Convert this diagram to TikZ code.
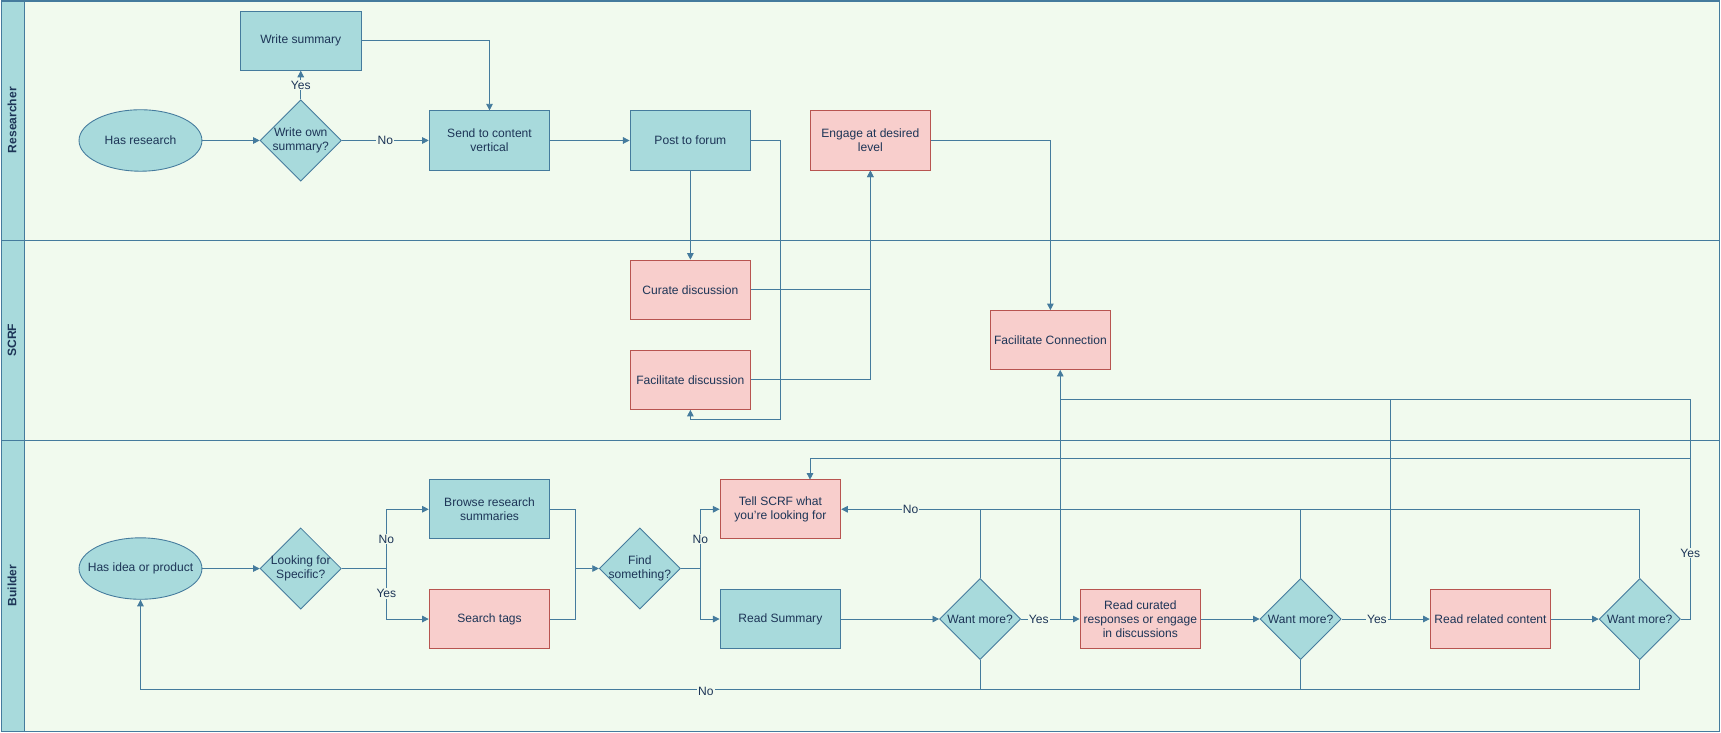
\documentclass[tikz,border=0pt]{standalone}
\usepackage{fontspec}
\setmainfont{Liberation Sans}
\usetikzlibrary{shapes.geometric,arrows.meta}
\definecolor{teal}{HTML}{A8DADC}
\definecolor{bg}{HTML}{F1FAEE}
\definecolor{ln}{HTML}{457B9D}
\definecolor{dk}{HTML}{1D3557}
\definecolor{pk}{HTML}{F8CECC}
\definecolor{pkd}{HTML}{B85450}
\begin{document}
\begin{tikzpicture}[x=0.5pt,y=-0.5pt,
  every node/.style={font=\fontsize{5.5}{6.5}\selectfont, text=dk, align=center},
  box/.style={draw=ln, fill=teal, minimum width=55pt, minimum height=27pt, inner sep=0pt},
  pbox/.style={box, draw=pkd, fill=pk},
  ell/.style={ellipse, draw=ln, fill=teal, minimum width=56pt, minimum height=28pt, inner sep=0pt},
  dia/.style={diamond, draw=ln, fill=teal, minimum width=37pt, minimum height=37pt, inner sep=0pt, label={[text=dk, font=\fontsize{5.5}{6.5}\selectfont, align=center]center:#1}},
  ar/.style={draw=ln, -{Triangle[length=3pt,width=3pt]}},
  ln/.style={draw=ln},
  lab/.style={fill=bg, inner sep=0.5pt}]
\useasboundingbox (0,0) rectangle (1568,667);
% lanes
\foreach \a/\b/\t in {0/219/Researcher,219/401/SCRF,401/666/Builder}{
  \fill[bg] (22,\a) rectangle (1567,\b);
  \draw[ln, fill=teal] (1,\a) rectangle (22,\b);
  \draw[ln] (22,\a) rectangle (1567,\b);
  \node[rotate=90, font=\fontsize{5.5}{6.5}\selectfont\bfseries] at (11,{(\a+\b)/2}) {\t};
}
\draw[ln] (1,1) rectangle (1567,666);
% nodes
\node[ell] (hr) at (128,128) {Has research};
\node[dia={Write own\\summary?}] (d1) at (274,128) {};
\node[box] (ws) at (274,37) {Write summary};
\node[box] (sc) at (446,128) {Send to content\\vertical};
\node[box] (pf) at (629,128) {Post to forum};
\node[pbox] (en) at (793,128) {Engage at desired\\level};
\node[pbox] (cd) at (629,264) {Curate discussion};
\node[pbox] (fd) at (629,346) {Facilitate discussion};
\node[pbox] (fc) at (957,310) {Facilitate Connection};
\node[ell, label={[text=dk,font=\fontsize{5.5}{6.5}\selectfont]center:Has idea or product}] (hi) at (128,518) {};
\node[dia={Looking for\\Specific?}] (d2) at (274,518) {};
\node[box] (br) at (446,464) {Browse research\\summaries};
\node[pbox] (st) at (446,564) {Search tags};
\node[dia={Find\\something?}] (d3) at (583,518) {};
\node[pbox] (ts) at (711,464) {Tell SCRF what\\you're looking for};
\node[box] (rs) at (711,564) {Read Summary};
\node[dia={Want more?}] (w1) at (893,564) {};
\node[pbox] (rc) at (1039,564) {Read curated\\responses or engage\\in discussions};
\node[dia={Want more?}] (w2) at (1185,564) {};
\node[pbox] (rr) at (1358,564) {Read related content};
\node[dia={Want more?}] (w3) at (1494,564) {};
\coordinate (bot) at (128,628);
% researcher
\draw[ar] (hr) -- (d1);
\draw[ar] (d1) -- node[lab,pos=0.5]{Yes} (ws);
\draw[ar] (d1) -- node[lab]{No} (sc);
\draw[ar] (ws.east) -| (sc.north);
\draw[ar] (sc) -- (pf);
\draw[ar] (pf) -- (cd);
\draw[ar] (pf.east) -- (711,128) -- (711,382) -| (fd.south);
\draw[ar] (cd.east) -| (en.south);
\draw[ar] (fd.east) -| (en.south);
\draw[ar] (en.east) -| (fc.north);
% builder
\draw[ar] (hi) -- (d2);
\draw[ar] (d2.east) -- (352,518) |- node[lab,pos=0.25]{No} (br.west);
\draw[ar] (d2.east) -- (352,518) |- node[lab,pos=0.25]{Yes} (st.west);
\draw[ln] (br.east) -- (524,464) -- (524,518);
\draw[ln] (st.east) -- (524,564) -- (524,518);
\draw[ar] (524,518) -- (d3.west);
\draw[ar] (d3.east) -- (638,518) |- node[lab,pos=0.25]{No} (ts.west);
\draw[ar] (d3.east) -- (638,518) |- (rs.west);
\draw[ar] (rs) -- (w1);
\draw[ar] (w1) -- node[lab,pos=0.3]{Yes} (rc);
\draw[ar] (rc) -- (w2);
\draw[ar] (w2) -- node[lab,pos=0.4]{Yes} (rr);
\draw[ar] (rr) -- (w3);
\draw[ar] (w1.north) |- node[lab,pos=0.75]{No} (ts.east);
\draw[ln] (w2.north) |- (893,464);
\draw[ln] (w3.north) |- (1185,464);
\draw[ar] (w1.south) -- (893,628) -- (bot) -- (hi.south);
\node[lab] at (643,630) {No};
\draw[ln] (w2.south) |- (893,628);
\draw[ln] (w3.south) |- (1185,628);
\draw[ar] (966,564) -- (966,364) -- (966,337);
\draw[ln] (1267,564) -- (1267,364) -- (966,364);
\draw[ln] (w3.east) -- (1540,564) -- node[lab,pos=0.3]{Yes} (1540,364) -- (1267,364);
\draw[ar] (1540,418) -- (738,418) -- (738,437);
\end{tikzpicture}
\end{document}
